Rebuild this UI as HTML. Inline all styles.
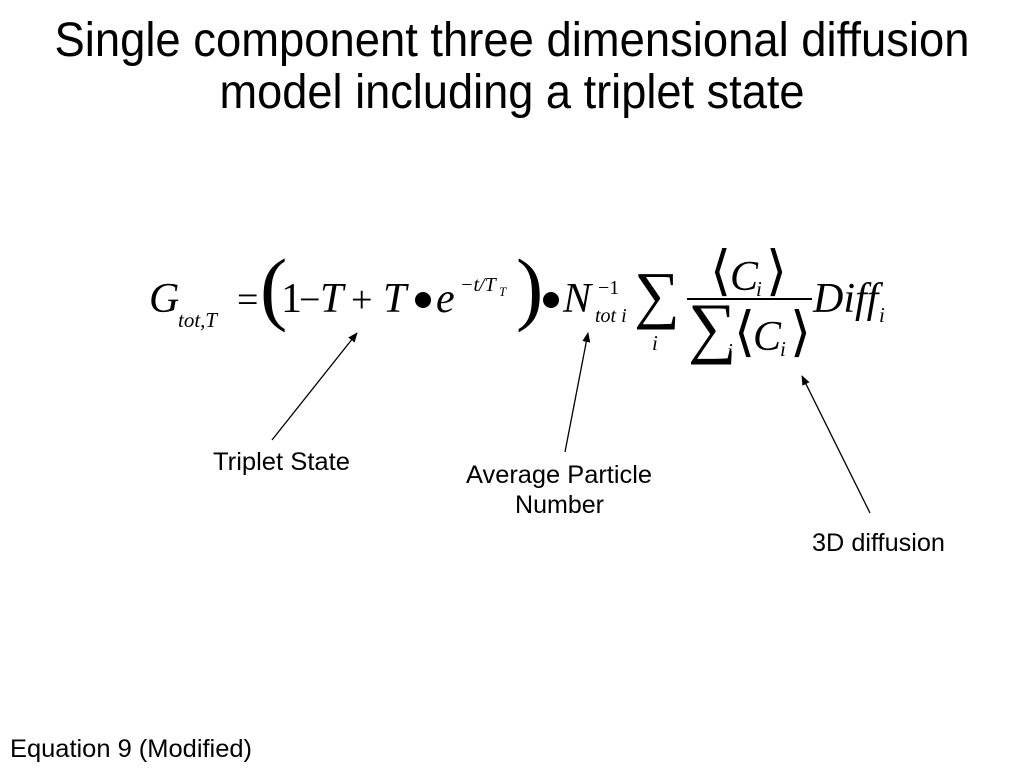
<!DOCTYPE html>
<html><head><meta charset="utf-8"><style>
html,body{margin:0;padding:0;background:#fff;}
svg{display:block;}
</style></head><body>
<svg width="1024" height="768" viewBox="0 0 1024 768" xmlns="http://www.w3.org/2000/svg">
<defs><marker id="ah" markerWidth="10" markerHeight="8" refX="9" refY="4" orient="auto" markerUnits="userSpaceOnUse"><path d="M0,0 L10,4 L0,8 z" fill="#000"/></marker></defs>
<g font-family="Liberation Sans, sans-serif" font-size="48" fill="#000" text-anchor="middle">
<text x="512" y="56" textLength="915" lengthAdjust="spacingAndGlyphs">Single component three dimensional diffusion</text>
<text x="512" y="108" textLength="585" lengthAdjust="spacingAndGlyphs">model including a triplet state</text>
</g>
<g font-family="Liberation Serif, serif" fill="#000">
<text x="149" y="312" font-size="42" font-style="italic">G</text>
<text x="178" y="327" font-size="21" font-style="italic">tot,T</text>
<text x="237" y="312" font-size="38">=</text>
<text x="260" y="315" font-size="82">(</text>
<text x="281" y="312" font-size="42">1</text>
<text x="299" y="312" font-size="38">−</text>
<text x="320" y="312" font-size="42" font-style="italic">T</text>
<text x="351" y="312" font-size="38">+</text>
<text x="383" y="312" font-size="42" font-style="italic">T</text>
<circle cx="423" cy="300" r="8"/>
<text x="436" y="312" font-size="42" font-style="italic">e</text>
<text x="460" y="291" font-size="20" font-style="italic">−t/T</text>
<text x="499" y="296" font-size="13" font-style="italic">T</text>
<text x="516" y="315" font-size="82">)</text>
<circle cx="551" cy="300" r="8"/>
<text x="563" y="312" font-size="42" font-style="italic">N</text>
<text x="598" y="294" font-size="20">−1</text>
<text x="595" y="322" font-size="20" font-style="italic">tot i</text>
<text x="634" y="316" font-size="64">∑</text>
<text x="652" y="350" font-size="21" font-style="italic">i</text>
<text x="710" y="289" font-size="54">⟨</text>
<text x="730" y="290" font-size="42" font-style="italic">C</text>
<text x="756" y="296" font-size="21" font-style="italic">i</text>
<text x="766" y="289" font-size="54">⟩</text>
<rect x="687" y="298" width="125" height="2"/>
<text x="688" y="350" font-size="68">∑</text>
<text x="727" y="358" font-size="21" font-style="italic">i</text>
<text x="734" y="350" font-size="54">⟨</text>
<text x="753" y="350" font-size="42" font-style="italic">C</text>
<text x="780" y="356" font-size="21" font-style="italic">i</text>
<text x="790" y="350" font-size="54">⟩</text>
<text x="813" y="312" font-size="42" font-style="italic">Diff</text>
<text x="879" y="322" font-size="21" font-style="italic">i</text>
</g>
<g stroke="#000" stroke-width="1.3">
<line x1="272" y1="440" x2="357" y2="333" marker-end="url(#ah)"/>
<line x1="565" y1="452" x2="588" y2="333" marker-end="url(#ah)"/>
<line x1="870" y1="513" x2="802" y2="376" marker-end="url(#ah)"/>
</g>
<g font-family="Liberation Sans, sans-serif" font-size="25" fill="#000">
<text x="213" y="470" textLength="137" lengthAdjust="spacingAndGlyphs">Triplet State</text>
<text x="466" y="483" textLength="186" lengthAdjust="spacingAndGlyphs">Average Particle</text>
<text x="515" y="513" textLength="89" lengthAdjust="spacingAndGlyphs">Number</text>
<text x="812" y="551" textLength="133" lengthAdjust="spacingAndGlyphs">3D diffusion</text>
<text x="10" y="757" textLength="242" lengthAdjust="spacingAndGlyphs">Equation 9 (Modified)</text>
</g>
</svg>
</body></html>
